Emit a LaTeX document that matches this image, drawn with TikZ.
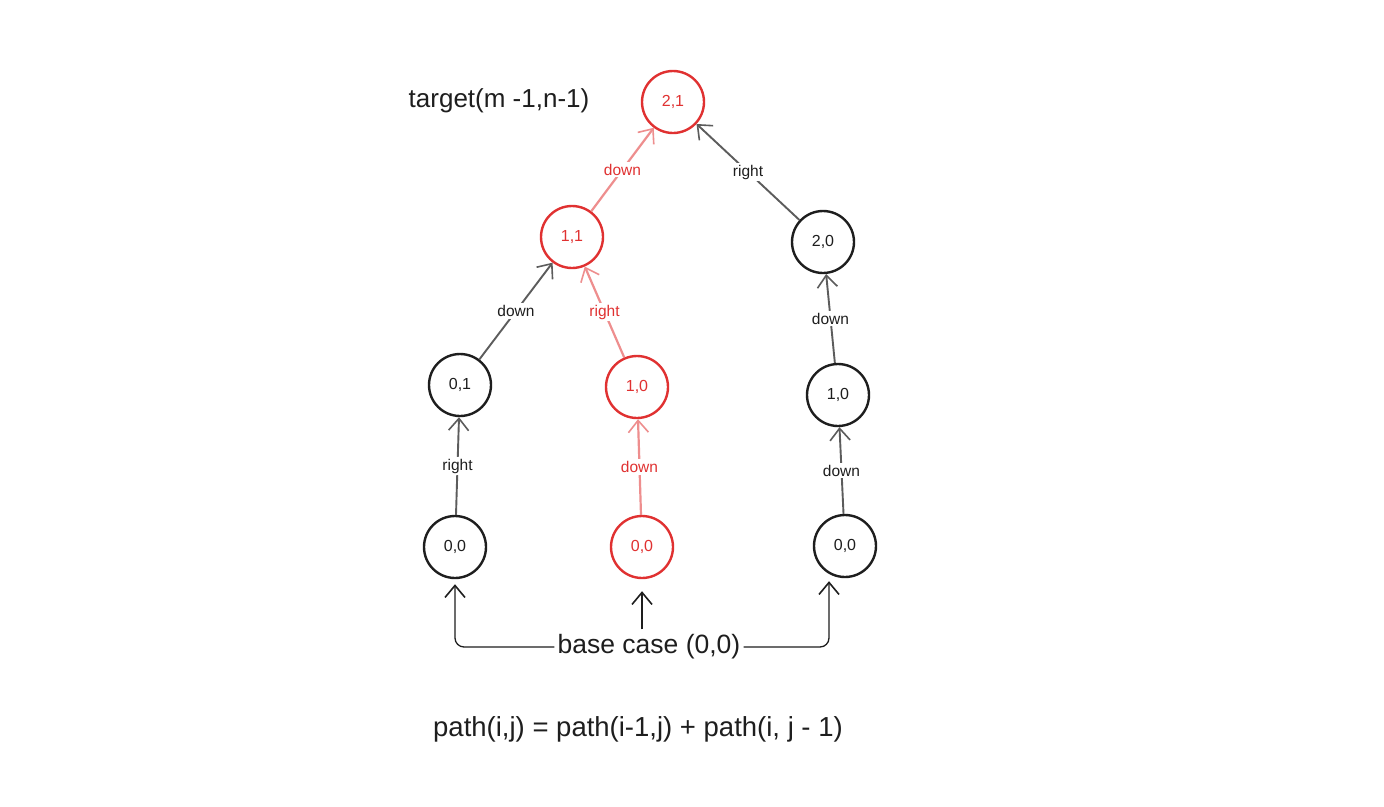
\documentclass[tikz,border=0pt]{standalone}
\usepackage{fontspec}
\setmainfont{Liberation Sans}
\usetikzlibrary{arrows.meta}
\definecolor{exred}{HTML}{E03131}
\definecolor{exredl}{HTML}{EE8E8E}
\definecolor{exblack}{HTML}{1E1E1E}
\definecolor{exgray}{HTML}{5C5C5C}
\tikzset{
  st/.style={circle, draw=exblack, line width=2.4pt, minimum size=62pt, inner sep=0pt, font=\fontsize{16}{19}\selectfont, text=exblack},
  stred/.style={st, draw=exred, text=exred},
  tip/.style={-{Straight Barb[length=12pt,width=20pt,line width=1.6pt]}},
  bedge/.style={tip, draw=exgray, line width=1.9pt},
  redge/.style={tip, draw=exredl, line width=2.2pt},
  lbl/.style={fill=white, inner sep=2pt, font=\fontsize{15.5}{18}\selectfont, text=exblack},
  rlbl/.style={lbl, text=exred},
  baseedge/.style={tip, draw=exblack, line width=1.3pt, rounded corners=9pt},
}
\begin{document}
\begin{tikzpicture}[x=1pt,y=-1pt]
\useasboundingbox[fill=white] (0,0) rectangle (1384,806);
% nodes
\node[stred] (n21) at (673,102) {2,1};
\node[stred] (n11) at (572,237) {1,1};
\node[st] (n20) at (823,242) {2,0};
\node[st] (n01) at (460,385) {0,1};
\node[stred] (n10r) at (637,387) {1,0};
\node[st] (n10) at (838,395) {1,0};
\node[st] (a00) at (455,547) {0,0};
\node[stred] (b00) at (642,547) {0,0};
\node[st] (c00) at (845,546) {0,0};
\node[font=\fontsize{26}{30}\selectfont, text=exblack] (title) at (499,101) {target(m -1,n-1)};
\node[font=\fontsize{26.5}{30}\selectfont, text=exblack, inner sep=3pt] (base) at (649,647) {base case (0,0)};
\node[font=\fontsize{27.5}{32}\selectfont, text=exblack] (formula) at (638,729) {path(i,j) = path(i-1,j) + path(i, j - 1)};
% edges
\draw[redge] (n11) -- node[rlbl]{down} (n21);
\draw[bedge] (n20) -- node[lbl]{right} (n21);
\draw[bedge] (n01) -- node[lbl]{down} (n11);
\draw[redge] (n10r) -- node[rlbl]{right} (n11);
\draw[bedge] (a00) -- node[lbl]{right} (n01);
\draw[redge] (b00) -- node[rlbl]{down} (n10r);
\draw[bedge] (c00) -- node[lbl]{down} (n10);
\draw[bedge] (n10) -- node[lbl]{down} (n20);
% base case arrows
\draw[baseedge, shorten >=5pt] (base.west) -| (a00.south);
\draw[baseedge, shorten >=12pt, shorten <=2pt] (b00.south |- base.north) -- (b00.south);
\draw[baseedge, shorten >=3pt] (base.east) -| ([xshift=-16pt]c00.south);
\end{tikzpicture}
\end{document}
